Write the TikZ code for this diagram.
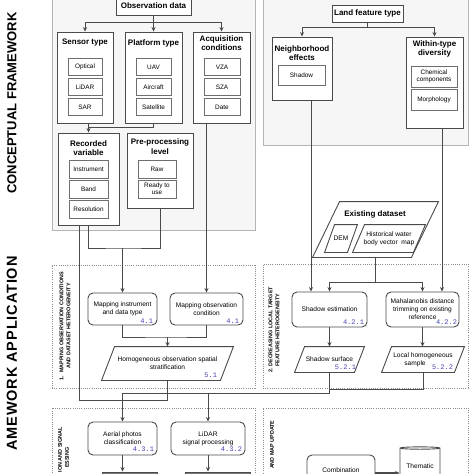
\documentclass[tikz,border=0pt]{standalone}
\usepackage{fontspec}
\setmainfont{Liberation Sans}
\setmonofont{Liberation Mono}
\usetikzlibrary{positioning,shapes.geometric,arrows.meta}

\definecolor{boxline}{HTML}{4A4A4A}
\definecolor{frameline}{HTML}{B4B4B4}
\definecolor{framefill}{HTML}{F6F6F6}
\definecolor{secline}{HTML}{8C8C8C}
\definecolor{numblue}{HTML}{4646B4}
\definecolor{resgray}{HTML}{7A7A7A}

\begin{document}
\begin{tikzpicture}
    [x=1pt,y=-1pt,line width=0.9pt,
     >={Stealth[length=4.5pt,width=4pt]},
     frame/.style={rectangle,draw=frameline,fill=framefill,line width=0.8pt},
     section/.style={rectangle,draw=secline,line width=0.8pt,dash pattern=on 1pt off 1.2pt},
     group/.style={rectangle,draw=boxline,fill=white},
     title/.style={font=\bfseries\fontsize{8}{9.5}\selectfont,align=center,inner sep=0pt},
     item/.style={rectangle,draw=boxline!80,fill=white,line width=0.7pt,
                  font=\fontsize{6.4}{7.4}\selectfont,align=center,inner sep=0pt},
     proc/.style={rectangle,rounded corners=5pt,draw=boxline,fill=white,
                  font=\fontsize{6.6}{8}\selectfont,align=center,inner sep=0pt},
     data/.style={rectangle,font=\fontsize{6.6}{8}\selectfont,align=center,inner sep=0pt,
                  append after command={\pgfextra{\draw[boxline]
                    (\tikzlastnode.south west) -- ([xshift=#1]\tikzlastnode.north west)
                    -- (\tikzlastnode.north east) -- ([xshift=-#1]\tikzlastnode.south east) -- cycle;}}},
     result/.style={rectangle,draw=boxline,fill=resgray},
     num/.style={font=\ttfamily\fontsize{7}{7}\selectfont,text=numblue,inner sep=0pt},
     phase/.style={font=\bfseries\fontsize{13}{13}\selectfont,rotate=90,inner sep=0pt},
     seclabel/.style={font=\bfseries\fontsize{5.4}{6.8}\selectfont,rotate=90,align=center,inner sep=0pt},
     wire/.style={draw=boxline}]
    \useasboundingbox [fill=white] (0,0) rectangle (474,474);

    % conceptual framework
    \node (cfleft)  at (153.5,110)  [frame,minimum width=203pt,minimum height=240pt] {};
    \node (cfright) at (365.5,67.5) [frame,minimum width=205pt,minimum height=155pt] {};
    \node (cfname)  at (12,103) [phase] {CONCEPTUAL FRAMEWORK};
    \node (faname)  at (12,256) [phase,anchor=east,
                                 font=\bfseries\fontsize{14.5}{14.5}\selectfont\addfontfeature{LetterSpace=6}] {AMEWORK APPLICATION};

    \node (obs) at (153.5,6) [group,title,minimum width=75pt,minimum height=19pt] {Observation data};
    \node (sensor)   at (85,77.5)    [group,minimum width=56pt,minimum height=91pt] {};
    \node (platform) at (153.5,77.5) [group,minimum width=57pt,minimum height=91pt] {};
    \node (acq)      at (221.5,77.5) [group,minimum width=57pt,minimum height=91pt] {};
    \node (sensortitle)   at (85,43)    [title] {Sensor type};
    \node (platformtitle) at (153.5,43) [title] {Platform type};
    \node (acqtitle)      at (221.5,43) [title] {Acquisition\\conditions};
    \foreach \name/\txt/\y in {opt/Optical/67,lid/LiDAR/87,sar/SAR/107}
      \node (\name) at (85,\y) [item,minimum width=34pt,minimum height=17pt] {\txt};
    \foreach \name/\txt/\y in {uav/UAV/67,air/Aircraft/87,sat/Satellite/107}
      \node (\name) at (153.5,\y) [item,minimum width=35pt,minimum height=17pt] {\txt};
    \foreach \name/\txt/\y in {vza/VZA/67,sza/SZA/87,date/Date/107}
      \node (\name) at (222,\y) [item,minimum width=36pt,minimum height=17pt] {\txt};

    \node (recvar)  at (88.5,179)  [group,minimum width=61pt,minimum height=92pt] {};
    \node (preproc) at (160,170.5) [group,minimum width=66pt,minimum height=75pt] {};
    \node (recvartitle)  at (88.5,148) [title] {Recorded\\variable};
    \node (preproctitle) at (160,146.5) [title] {Pre-processing\\level};
    \foreach \name/\txt/\y in {instr/Instrument/169,band/Band/189.5,resol/Resolution/209}
      \node (\name) at (88.5,\y) [item,minimum width=39pt,minimum height=18pt] {\txt};
    \foreach \name/\txt/\y in {raw/Raw/169,ready/{Ready to\\use}/189}
      \node (\name) at (157,\y) [item,minimum width=38pt,minimum height=18pt] {\txt};

    \node (land)   at (367.5,13.5) [group,title,minimum width=71pt,minimum height=17pt] {Land feature type};
    \node (neigh)  at (302,68.5)   [group,minimum width=60pt,minimum height=63pt] {};
    \node (within) at (434.5,82.5) [group,minimum width=57pt,minimum height=91pt] {};
    \node (neightitle)  at (302,53)  [title] {Neighborhood\\effects};
    \node (withintitle) at (434.5,49) [title] {Within-type\\diversity};
    \node (shadow) at (301.5,75) [item,minimum width=47pt,minimum height=20pt] {Shadow};
    \node (chem)   at (434,76.5) [item,minimum width=46pt,minimum height=21pt] {Chemical\\components};
    \node (morph)  at (434,99.5) [item,minimum width=46pt,minimum height=21pt] {Morphology};

    \node (exist) at (375.5,229.5) [data=27pt,minimum width=125pt,minimum height=55pt] {};
    \node (existtitle) at (375,214) [title] {Existing dataset};
    \node (dem)  at (341,238.5) [data=10pt,minimum width=32pt,minimum height=27pt] {DEM};
    \node (hist) at (389,238.5) [data=12pt,minimum width=72pt,minimum height=27pt] {Historical water\\body vector~~map};

    % framework application
    \node (sec1) at (153.5,326.5) [section,minimum width=203pt,minimum height=123pt] {};
    \node (sec2) at (365.5,326)   [section,minimum width=205pt,minimum height=124pt] {};
    \node (sec3) at (153.5,449)   [section,minimum width=203pt,minimum height=82pt] {};
    \node (sec4) at (365.5,449)   [section,minimum width=205pt,minimum height=82pt] {};
    \node (sec1lab) at (65,326)  [seclabel] {1.~~MAPPING OBSERVATION CONDITIONS\\AND DATASET HETEROGENEITY};
    \node (sec2lab) at (274,330) [seclabel] {2. DECREASING LOCAL TARGET\\FEATURE HETEROGENEITY};
    \node (sec3laba) at (60,427) [seclabel,anchor=east] {ION AND SIGNAL};
    \node (sec3labb) at (67,447) [seclabel,anchor=east] {ESSING};
    \node (sec4lab)  at (272,420) [seclabel,anchor=east] {AND MAP UPDATE};

    \node (mapinst) at (122.5,309) [proc,minimum width=69pt,minimum height=32pt] {Mapping instrument\\and data type};
    \node (mapobs)  at (206.5,309) [proc,minimum width=73pt,minimum height=32pt] {Mapping observation\\condition};
    \node (strat)   at (167.5,363.5) [data=13pt,minimum width=131pt,minimum height=33pt] {Homogeneous observation spatial\\stratification};
    \node (shest)  at (329.5,309.5) [proc,minimum width=75pt,minimum height=35pt] {Shadow estimation};
    \node (maha)   at (422.5,309.5) [proc,minimum width=73pt,minimum height=35pt] {Mahalanobis distance\\trimming on existing\\reference};
    \node (shsurf) at (329.5,359.5) [data=10pt,minimum width=69pt,minimum height=25pt] {Shadow surface};
    \node (lhs)    at (423,359.5)   [data=10pt,minimum width=82pt,minimum height=25pt] {Local homogeneous\\sample\hspace*{16pt}};
    \node (aerial)    at (122.5,438.5) [proc,minimum width=69pt,minimum height=33pt] {Aerial photos\\classification};
    \node (lidarproc) at (208,438.5)   [proc,minimum width=74pt,minimum height=33pt] {LiDAR\\signal processing};
    \node (res1) at (129.5,488) [result,minimum width=55pt,minimum height=32pt] {};
    \node (res2) at (217.5,488) [result,minimum width=65pt,minimum height=32pt] {};
    \node (comb) at (341,470) [proc,minimum width=68pt,minimum height=30pt] {Combination};
    \node (thm)  at (420,475) [cylinder,shape border rotate=90,aspect=0.35,draw=boxline,fill=white,
                               minimum width=40pt,minimum height=54pt] {};
    \node (thmtext) at (420,466) [font=\fontsize{6.6}{8}\selectfont,inner sep=0pt] {Thematic};

    \node (n41a)  at ([shift={(-4,-1.5)}]mapinst.south east) [num,anchor=south east] {4.1};
    \node (n41b)  at ([shift={(-4,-1.5)}]mapobs.south east)  [num,anchor=south east] {4.1};
    \node (n51)   at ([shift={(-16,-2)}]strat.south east)    [num,anchor=south east] {5.1};
    \node (n421)  at ([shift={(-3,-2.5)}]shest.south east)   [num,anchor=south east] {4.2.1};
    \node (n422)  at ([shift={(-2,-3)}]maha.south east)      [num,anchor=south east] {4.2.2};
    \node (n521)  at ([shift={(-8,-2)}]shsurf.south east)    [num,anchor=south east] {5.2.1};
    \node (n522)  at ([shift={(-11,-2)}]lhs.south east)      [num,anchor=south east] {5.2.2};
    \node (n431)  at ([shift={(-3,-3)}]aerial.south east)    [num,anchor=south east] {4.3.1};
    \node (n432)  at ([shift={(-3,-3)}]lidarproc.south east) [num,anchor=south east] {4.3.2};

    % connectors
    \coordinate (obsbus) at (153.5,22);
    \draw [wire] (obs.south) -- (obsbus);
    \draw [wire,->] (obsbus) -| (sensor.north);
    \draw [wire,->] (obsbus) -- (platform.north);
    \draw [wire,->] (obsbus) -| (acq.north);
    \draw [wire,->] (sensor.south -| recvar.north) -- (recvar.north);
    \coordinate (platbus) at (88.5,127);
    \draw [wire] (platform.south) |- (platbus);

    \coordinate (varbus) at (122.5,248);
    \draw [wire] (recvar.south) |- (varbus) -| (preproc.south);
    \draw [wire,->] (varbus) -- (mapinst.north);
    \draw [wire,->] (acq.south -| mapobs.north) -- (mapobs.north);
    \coordinate (mapbus) at (167.5,337);
    \draw [wire] (mapinst.south) |- (mapbus) -| (mapobs.south);
    \draw [wire,->] (mapbus) -- (mapbus |- strat.north);

    \coordinate (varleft) at (79.5,400);
    \coordinate (stratbus) at (167.5,400);
    \draw [wire] (recvar.south -| varleft) -- (varleft) -- (stratbus) -- (strat.south -| stratbus);

    \coordinate (landbus) at (367.5,27);
    \draw [wire] (land.south) -- (landbus);
    \draw [wire,->] (landbus) -| (neigh.north);
    \draw [wire,->] (landbus) -| (within.north);
    \draw [wire,->] ([xshift=9pt]neigh.south) -- ([xshift=9pt]neigh.south |- shest.north);
    \draw [wire,->] ([xshift=7.5pt]within.south) -- ([xshift=7.5pt]within.south |- maha.north);
    \coordinate (existbus) at (375.5,282);
    \draw [wire] (exist) -- (existbus);
    \draw [wire,->] (existbus) -| (shest.north);
    \draw [wire,->] (existbus) -| (maha.north);
    \draw [wire,->] (shest.south) -- (shest.south |- shsurf.north);
    \draw [wire,->] (maha.south) -- (maha.south |- lhs.north);

    \coordinate (surfbus) at (329.5,393);
    \coordinate (classbus) at (122.5,393);
    \coordinate (samplebus) at (423,389);
    \draw [wire] (shsurf) -- (surfbus) -- (classbus);
    \draw [wire] (lhs) -- (samplebus) -- (surfbus |- samplebus);
    \draw [wire,->] (classbus) -- (aerial.north);
    \draw [wire,->] (lidarproc.north |- classbus) -- (lidarproc.north);
    \draw [wire,->] (aerial.south) -- (aerial.south |- res1.north);
    \draw [wire,->] (lidarproc.south) -- (lidarproc.south |- res2.north);
    \draw [wire,->,line width=1.6pt] ([yshift=-3pt]comb.east) -- ([yshift=-3pt]comb.east -| thm.west);
  \end{tikzpicture}
\end{document}
